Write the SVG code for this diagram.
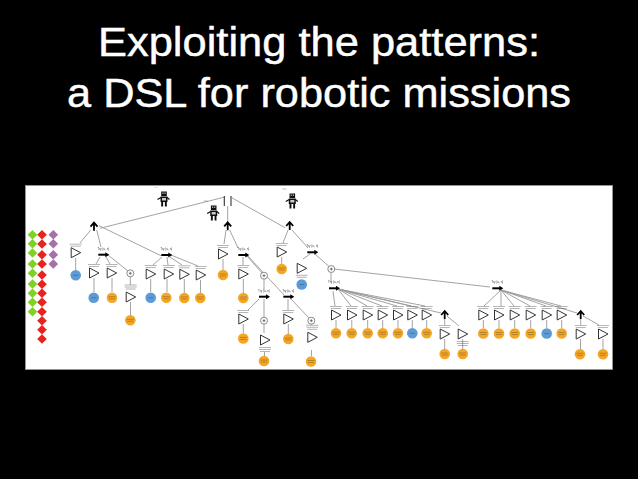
<svg xmlns="http://www.w3.org/2000/svg" width="638" height="479" viewBox="0 0 638 479">
<style>
.title{font-family:"Liberation Sans",Arial,sans-serif;font-size:40px;fill:#fff;stroke:#fff;stroke-width:.45;text-anchor:middle}
.e{fill:none;stroke:#999;stroke-width:.9}
.tri{fill:#fff;stroke:#333;stroke-width:1}
.lb{stroke:#333;stroke-width:.8;opacity:.45;fill:none}
.cl{stroke:#333;stroke-width:.8;opacity:.4;fill:none}
.try{font-family:"Liberation Sans",Arial,sans-serif;font-size:3px;fill:#444;text-anchor:middle}
.o{fill:#f5a623}.b{fill:#5b9bd5}
.g{fill:#7ed321}.r{fill:#e8211d}.p{fill:#a571a8}
</style>
<defs>
<filter id="soft" x="0" y="0" width="100%" height="100%"><feGaussianBlur stdDeviation="0.45"/></filter>
<g id="tl"><path class="lb" d="M-6-8.500H6M-5-6.500H5"/><path class="tri" d="M-4.500-5L5 0L-4.500 5Z"/></g>
<g id="tb"><path class="lb" d="M-6 7.500H6M-6 9.500H6M-5 11.500H5"/><path class="tri" d="M-4.500-5L5 0L-4.500 5Z"/></g>
<g id="ts"><path class="lb" d="M-6 7H6M-5 9H5"/><path class="tri" d="M-4.500-5L5 0L-4.500 5Z"/></g>
<g id="ct"><path class="lb" d="M-6-12H6M-6-10H6M-5-8H5"/><path class="tri" d="M-4.500-5L5 0L-4.500 5Z"/></g>
<g id="co"><circle class="o" r="5.300"/><path class="cl" d="M-3.500-1H3.500M-3 1H3"/></g>
<g id="cb"><circle class="b" r="5.300"/><path class="cl" d="M-2.500 0H2.500"/></g>
<g id="up"><path d="M0 4V-3M-3.500 0L0-4L3.500 0" fill="none" stroke="#000" stroke-width="1.800"/></g>
<g id="ra"><path d="M-5 0H3" stroke="#000" stroke-width="2" fill="none"/><path d="M2-2.500L6 0L2 2.500Z" fill="#000"/><text class="try" x="0" y="-5">Try (a, n)</text></g>
<g id="pl"><circle r="3.500" fill="#fff" stroke="#888" stroke-width="1"/><path d="M-1.500 0H1.500M0-1.500V1.500" stroke="#444" stroke-width=".7"/></g>
<path id="d" d="M0-4.800L4.800 0L0 4.800L-4.800 0Z"/>
<g id="rob" fill="#111"><rect x="-2.800" y="-7.500" width="5.600" height="4.500"/><rect x="-3.500" y="-2.500" width="7" height="5.500"/><rect x="-2.800" y="3" width="1.900" height="4.500"/><rect x=".9" y="3" width="1.900" height="4.500"/><path d="M-3-1.500L-6.500 0.500M3-1.500L5.500 .5" stroke="#111" stroke-width="1.200"/><rect x="-1.600" y="-6.400" width="1.100" height="1.100" fill="#fff"/><rect x=".5" y="-6.400" width="1.100" height="1.100" fill="#fff"/><rect x="-2" y="-1" width="4" height="2.500" fill="#ccc"/><path class="cl" d="M-10-12H-6"/></g>
</defs>
<rect width="638" height="479" fill="#000"/>
<g id="title"><text class="title" x="319" y="56" textLength="442" lengthAdjust="spacingAndGlyphs">Exploiting the patterns:</text><text class="title" x="319" y="106.500" textLength="504" lengthAdjust="spacingAndGlyphs">a DSL for robotic missions</text></g>
<rect id="panel" x="25.500" y="185.500" width="587" height="184" fill="#fff" stroke="#999" stroke-width=".8"/>
<g id="diagram" filter="url(#soft)">
<g id="connectors">
<path class="e" d="M225 197L100 228.300M227.700 206V222M231.700 197.700L285 227.700M90.700 230L80 243M96.700 230L101 247M99 225.700L161 255.700M100 257L96 264M106 257L110 264M108 255L128 271M130.300 277V285M162 257L153 265M167 257L168 265M170 257L182 265M171 255L198 266"/>
<path class="e" d="M226 230L224 244M229.700 230L238 248M243 257V265M247 256L262 273M248 256L284 295M264 279V290M259 299L248 310M264 299V317M264 324V333M288 299V310M291 299L309 318M311.500 324V325M288 230L283 243M292 230L308 248M310 254L303 259M315 254L329 266.500M331 272.500V282M334 269L490 287"/>
<path class="e" d="M333 291L335 306M338 289L351 306M338 289L367 306M338 289L382 306M338 289L397 306M338 289L411 306M338 289L425 306M338 289L441 313M501 290L484 306M501 290V306M501 290L514 306M501 290L530 306M501 290L546 306M501 290L561 306M501 290L577 313M444.700 319V325M447 316L459 326M580.700 319V325M583 316L599 325"/>
<path class="e" d="M75.700 258V270M94 278V292M112 278V292M130.500 302V315M150.700 279V292M167 279V292M184.300 279V293M200.500 280V293M223 259V270M243.300 279V293M243.300 324V333M264.500 352V356M288.300 324V334M311.500 350V356M281.700 257V264M336 320V328M351.800 320V328M367.700 320V328M382.700 320V328M398 320V328M412.300 320V328M426.700 320V328M444.700 339V349M462.700 339V349M483.300 320V328M499 320V328M514.700 320V328M530.700 320V328M546.700 320V328M561.700 320V328M580.500 339V349M603 339V349"/>
</g>
<g id="legend">
<g class="g"><use href="#d" x="32.500" y="234.700"/><use href="#d" x="32.500" y="243.700"/><use href="#d" x="32.500" y="253"/><use href="#d" x="32.500" y="264"/><use href="#d" x="32.500" y="273.300"/><use href="#d" x="32.500" y="284"/><use href="#d" x="32.500" y="293.300"/><use href="#d" x="32.500" y="302.300"/><use href="#d" x="32.500" y="311.700"/></g>
<g class="r"><use href="#d" x="42" y="234.700"/><use href="#d" x="42" y="244"/><use href="#d" x="42" y="254.700"/><use href="#d" x="42" y="264"/><use href="#d" x="42" y="275"/><use href="#d" x="42" y="284.300"/><use href="#d" x="42" y="293.300"/><use href="#d" x="42" y="302.300"/><use href="#d" x="42" y="311.700"/><use href="#d" x="42" y="320.700"/><use href="#d" x="42" y="329.700"/><use href="#d" x="42" y="339"/></g>
<g class="p"><use href="#d" x="53.300" y="234.700"/><use href="#d" x="53.300" y="243.700"/><use href="#d" x="53.300" y="254.700"/><use href="#d" x="53.300" y="264"/></g>
</g>
<g id="robots"><use href="#rob" x="164" y="199"/><use href="#rob" x="213.700" y="213"/><use href="#rob" x="292.300" y="201"/></g>
<g id="parallel"><path d="M224.300 196V206M231 196V206" stroke="#333" stroke-width="1.100" fill="none"/></g>
<g id="operators">
<use href="#up" x="94" y="226.700"/><use href="#up" x="227.700" y="226.300"/><use href="#up" x="289.700" y="226"/><use href="#up" x="444.700" y="315"/><use href="#up" x="580.700" y="315"/>
<use href="#ra" x="103.300" y="254.700"/><use href="#ra" x="166.300" y="255"/><use href="#ra" x="243.300" y="255"/><use href="#ra" x="312.300" y="252.300"/><use href="#ra" x="264" y="296.700"/><use href="#ra" x="288.300" y="296.700"/><use href="#ra" x="334" y="288.300"/><use href="#ra" x="497.300" y="288.300"/>
<use href="#pl" x="130.300" y="273.300"/><use href="#pl" x="264" y="275.700"/><use href="#pl" x="264" y="320.700"/><use href="#pl" x="311.300" y="320.700"/><use href="#pl" x="331.300" y="269"/>
</g>
<g id="tasks">
<g id="t1"><use href="#tl" x="75.700" y="252.700"/><use href="#cb" x="75.700" y="275.300"/></g>
<g id="t2"><use href="#tl" x="94" y="273"/><use href="#cb" x="93.700" y="297.700"/></g>
<g id="t3"><use href="#tl" x="111.700" y="273"/><use href="#co" x="112" y="297.700"/></g>
<g id="t4"><use href="#ct" x="130.700" y="297"/><use href="#co" x="130.300" y="320.300"/></g>
<g id="t5"><use href="#tl" x="150.700" y="274"/><use href="#cb" x="150.700" y="297.700"/></g>
<g id="t6"><use href="#tl" x="168.700" y="274"/><use href="#co" x="166.300" y="297.700"/></g>
<g id="t7"><use href="#tl" x="184.300" y="274.300"/><use href="#co" x="184.300" y="298"/></g>
<g id="t8"><use href="#tl" x="200.700" y="275"/><use href="#co" x="200.300" y="298"/></g>
<g id="t9"><use href="#tl" x="223" y="254"/><use href="#co" x="223" y="275"/></g>
<g id="t10"><use href="#tl" x="243.300" y="274"/><use href="#co" x="243.300" y="298"/></g>
<g id="t11"><use href="#tl" x="243.300" y="319"/><use href="#co" x="243.300" y="338.500"/></g>
<g id="t12"><use href="#tb" x="265" y="340"/><use href="#co" x="264" y="361"/></g>
<g id="t13"><use href="#tl" x="288.300" y="319"/><use href="#co" x="288.300" y="339"/></g>
<g id="t14"><use href="#ct" x="312.300" y="337.300"/><use href="#co" x="311" y="361.500"/></g>
<g id="t15"><use href="#tl" x="281.700" y="252"/><use href="#co" x="281.700" y="269"/></g>
<g id="t16"><use href="#ts" x="301.700" y="268.300"/><use href="#cb" x="301.700" y="284.500"/></g>
<g id="t17"><use href="#tl" x="336" y="315"/><use href="#co" x="336" y="333.300"/></g>
<g id="t18"><use href="#tl" x="352" y="315"/><use href="#co" x="351.700" y="333.300"/></g>
<g id="t19"><use href="#tl" x="367.700" y="315"/><use href="#co" x="367.700" y="333.300"/></g>
<g id="t20"><use href="#tl" x="382.700" y="315"/><use href="#co" x="382.700" y="333.300"/></g>
<g id="t21"><use href="#tl" x="398" y="315"/><use href="#co" x="398" y="333.300"/></g>
<g id="t22"><use href="#tl" x="412.300" y="315"/><use href="#cb" x="412.300" y="333.300"/></g>
<g id="t23"><use href="#tl" x="426.700" y="315"/><use href="#co" x="426.700" y="333.300"/></g>
<g id="t24"><use href="#tl" x="444.700" y="334"/><use href="#co" x="444.700" y="354"/></g>
<g id="t25"><use href="#tb" x="462.700" y="334"/><use href="#co" x="462.700" y="354"/></g>
<g id="t26"><use href="#tl" x="483.300" y="315"/><use href="#co" x="483.300" y="333.500"/></g>
<g id="t27"><use href="#tl" x="499" y="315"/><use href="#co" x="499" y="333.500"/></g>
<g id="t28"><use href="#tl" x="514.700" y="315"/><use href="#co" x="514.700" y="333.500"/></g>
<g id="t29"><use href="#tl" x="530.700" y="315"/><use href="#co" x="530.700" y="333.500"/></g>
<g id="t30"><use href="#tl" x="546.700" y="315"/><use href="#cb" x="546.700" y="333.500"/></g>
<g id="t31"><use href="#tl" x="561.700" y="315"/><use href="#co" x="561.700" y="333.500"/></g>
<g id="t32"><use href="#tl" x="580.700" y="334"/><use href="#co" x="580" y="354.300"/></g>
<g id="t33"><use href="#tl" x="603" y="334"/><use href="#co" x="603" y="354.300"/></g>
</g>
</g>
</svg>
